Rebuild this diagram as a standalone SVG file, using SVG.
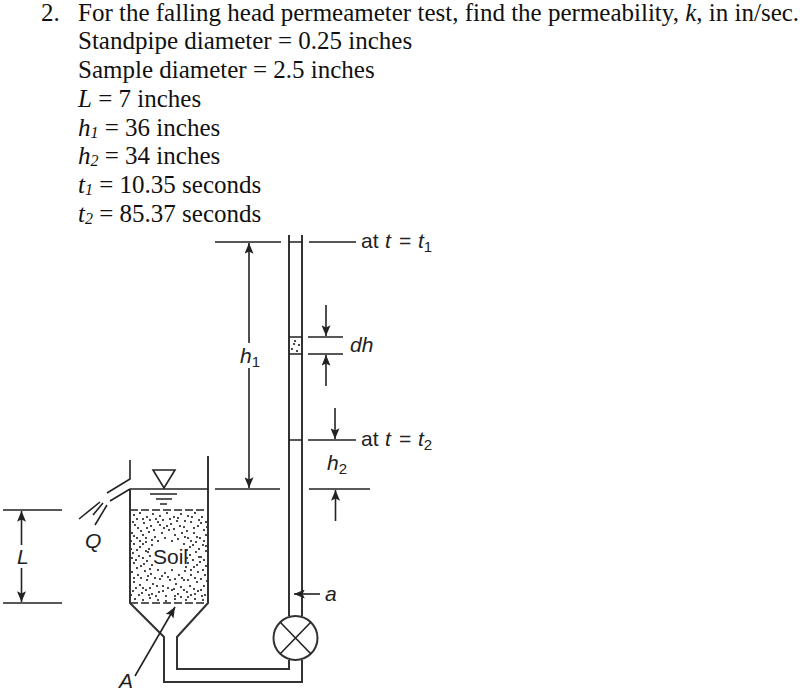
<svg xmlns="http://www.w3.org/2000/svg" width="800" height="692" viewBox="0 0 800 692">
<style>
.q{font-family:"Liberation Serif",serif;font-size:25px;fill:#111}
.i{font-style:italic}
.s{font-style:italic;font-size:16px}
.d{font-family:"Liberation Sans",Arial,sans-serif;font-size:21px;fill:#222}
.di{font-style:italic}
.sub{font-size:15px}
.l{fill:none;stroke:#222;stroke-width:1.6}
.p{fill:none;stroke:#333;stroke-width:2}
.dots{fill:none;stroke:#222;stroke-width:2.200;stroke-linecap:round}
</style>
<defs>
<marker id="ah" viewBox="0 0 12 10" refX="12" refY="5" markerUnits="userSpaceOnUse" markerWidth="13" markerHeight="9" orient="auto"><path d="M0 0L12 5L0 10L2.5 5Z" fill="#222"/></marker>
</defs>
<g id="question">
<text class="q" x="41" y="21">2.</text>
<text class="q" x="78" y="21">For the falling head permeameter test, find the permeability, <tspan class="i">k</tspan>, in in/sec.</text>
<text class="q" x="78" y="49">Standpipe diameter = 0.25 inches</text>
<text class="q" x="78" y="78">Sample diameter = 2.5 inches</text>
<text class="q" x="78" y="107"><tspan class="i">L</tspan> = 7 inches</text>
<text class="q" x="78" y="136"><tspan class="i">h</tspan><tspan class="s" dy="2">1</tspan><tspan dy="-2"> = 36 inches</tspan></text>
<text class="q" x="78" y="164"><tspan class="i">h</tspan><tspan class="s" dy="2">2</tspan><tspan dy="-2"> = 34 inches</tspan></text>
<text class="q" x="78" y="193"><tspan class="i">t</tspan><tspan class="s" dy="2">1</tspan><tspan dy="-2"> = 10.35 seconds</tspan></text>
<text class="q" x="78" y="222"><tspan class="i">t</tspan><tspan class="s" dy="2">2</tspan><tspan dy="-2"> = 85.37 seconds</tspan></text>
</g>
<g id="soil">
<path class="dots" d="M134 515h0M140 513h0M147 517h0M153 514h0M160 516h0M167 513h0M174 517h0M181 514h0M188 516h0M195 513h0M202 517h0M206 522h0M133 522h0M138 528h0M144 523h0M151 526h0M158 522h0M164 528h0M171 524h0M177 521h0M184 527h0M191 522h0M198 526h0M204 530h0M132 533h0M137 538h0M143 535h0M149 532h0M155 537h0M162 533h0M169 530h0M175 535h0M182 533h0M188 538h0M194 533h0M200 538h0M206 535h0M134 544h0M140 547h0M146 542h0M152 545h0M184 544h0M190 547h0M196 542h0M203 545h0M133 553h0M139 556h0M146 551h0M150 556h0M190 555h0M196 552h0M201 557h0M206 551h0M134 563h0M141 566h0M147 561h0M152 565h0M188 563h0M194 567h0M200 562h0M206 566h0M132 572h0M138 575h0M145 571h0M151 574h0M158 570h0M165 573h0M172 570h0M179 575h0M185 571h0M191 575h0M198 572h0M205 575h0M134 582h0M140 585h0M147 580h0M153 584h0M160 579h0M163 586h0M170 580h0M176 584h0M184 580h0M190 586h0M197 582h0M204 586h0M133 591h0M139 595h0M146 590h0M152 594h0M159 592h0M166 596h0M172 590h0M178 594h0M184 590h0M191 595h0M198 591h0M205 595h0M135 599h0M143 600h0M150 598h0M158 600h0M166 601h0M175 599h0M186 600h0M195 599h0M203 600h0"/>
<path class="dots" d="M137 519h0M143 519h0M150 520h0M156 519h0M163 520h0M170 519h0M178 518h0M185 521h0M192 517h0M199 520h0M135 525h0M141 531h0M147 528h0M154 530h0M160 525h0M167 526h0M174 529h0M180 526h0M187 531h0M194 528h0M201 523h0M207 527h0M134 536h0M140 541h0M146 538h0M152 540h0M158 541h0M165 538h0M172 541h0M178 539h0M185 537h0M191 541h0M197 537h0M204 541h0M131 541h0M137 550h0M143 544h0M149 549h0M187 550h0M193 545h0M199 549h0M206 546h0M131 549h0M136 560h0M143 558h0M148 552h0M187 558h0M193 560h0M199 557h0M204 560h0M132 558h0M137 568h0M144 564h0M150 569h0M186 567h0M191 570h0M197 565h0M203 570h0M134 578h0M141 578h0M148 576h0M155 578h0M162 576h0M168 577h0M175 579h0M182 578h0M188 580h0M195 578h0M201 579h0M207 581h0M136 588h0M143 588h0M150 588h0M157 586h0M168 588h0M174 589h0M181 587h0M187 592h0M194 589h0M201 590h0M131 595h0M142 593h0M149 595h0M156 596h0M163 591h0M175 596h0M181 597h0M188 597h0M195 594h0M202 596h0"/>
<path class="l" stroke-dasharray="8 3" d="M130 510H208M130 603H208"/>
<text class="d" x="153" y="564">Soil</text>
</g>
<g id="tank">
<path class="p" d="M130 489V603L164 637V682H302V660M208 456V603L177 637V669H289V660"/>
<path class="l" d="M130 489H208"/>
<path class="l" d="M110 501L130 489M107 493L130 479V460"/>
<path class="l" d="M79 519L100 502M93 515L103 503M95 525L107 505"/>
<path class="l" stroke-width="1.800" d="M153 470H175L164 488ZM150 494H177M156 499H172M160 504H167"/>
<text class="d di" x="85" y="548">Q</text>
</g>
<g id="standpipe">
<path class="p" d="M289 235V616M302 235V616"/>
<path class="l" d="M289 242H302M289 337H302M289 354H302M289 440H302"/>
<path class="dots" stroke-width="1.200" d="M295 341h0M299 345h0M292 349h0M297 351h0M294 344h0"/>
<circle class="p" cx="295.500" cy="638" r="22"/>
<path class="l" d="M280 622L311 654M311 622L280 654"/>
</g>
<g id="connectors">
<path class="l" d="M215 242H281M309 242H356M308 440H356M215 489H280M309 489H370M3 510H62M3 603H62M308 337H343M308 354H343"/>
<path class="l" marker-end="url(#ah)" d="M249 343V243"/>
<path class="l" marker-end="url(#ah)" d="M249 368V488"/>
<path class="l" marker-end="url(#ah)" d="M326 305V336"/>
<path class="l" marker-end="url(#ah)" d="M326 386V355"/>
<path class="l" marker-end="url(#ah)" d="M335 408V439"/>
<path class="l" marker-end="url(#ah)" d="M335.500 521V490"/>
<path class="l" marker-end="url(#ah)" d="M21.500 545V511"/>
<path class="l" marker-end="url(#ah)" d="M21.500 568V602"/>
<path class="l" marker-end="url(#ah)" d="M320 594H294"/>
<path class="l" marker-end="url(#ah)" d="M135 676L175 607"/>
</g>
<g id="labels">
<text class="d" y="248"><tspan x="361">at</tspan><tspan class="di" x="385">t</tspan><tspan x="399">=</tspan><tspan class="di" x="418">t</tspan><tspan class="sub" dy="4">1</tspan></text>
<text class="d" y="446"><tspan x="361">at</tspan><tspan class="di" x="385">t</tspan><tspan x="399">=</tspan><tspan class="di" x="418">t</tspan><tspan class="sub" dy="4">2</tspan></text>
<text class="d di" x="240" y="363">h<tspan class="sub" dy="4" font-style="normal">1</tspan></text>
<text class="d di" x="327" y="470">h<tspan class="sub" dy="4" font-style="normal">2</tspan></text>
<text class="d di" x="350" y="352">dh</text>
<text class="d di" x="325" y="601">a</text>
<text class="d di" x="17" y="564">L</text>
<text class="d di" x="119" y="688">A</text>
</g>
</svg>
